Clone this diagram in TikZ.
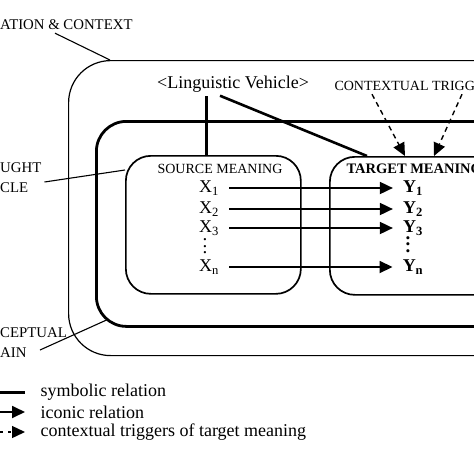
\documentclass[tikz,border=0pt]{standalone}
\usepackage{fontspec}
\setmainfont{Liberation Serif}
\usetikzlibrary{arrows.meta}
\newcommand\coldots{\vbox{\baselineskip6.5pt\lineskiplimit0pt\hbox{.}\hbox{.}\hbox{.}}}
\begin{document}
\begin{tikzpicture}[x=1pt,y=-1pt,
  every node/.style={font=\fontsize{18}{20}\selectfont},
  term/.style={inner sep=1pt},
  caps/.style={font=\fontsize{14}{20}\selectfont},
  side/.style={font=\fontsize{14.8}{20}\selectfont,anchor=west,align=left,inner sep=0pt},
  dots/.style={font=\fontsize{19}{20}\selectfont,inner sep=0pt},
  box/.style={draw,rounded corners=#1,inner sep=0pt,anchor=north west},
  sym/.style={line width=2.6pt},
  icon/.style={line width=1.8pt,shorten <=9pt,shorten >=9pt,-{Triangle[length=13pt,width=12pt]}},
  trig/.style={line width=1.4pt,dash pattern=on 5pt off 4pt,-{Triangle[length=13pt,width=12pt]}},
  lead/.style={line width=1.1pt}
]
\useasboundingbox (0,0) rectangle (474,474);
\clip (0,0) rectangle (474,474);
\node[box=42pt,line width=1.2pt,minimum width=520pt,minimum height=295pt] (sit) at (68,60) {};
\node[box=30pt,line width=2.8pt,minimum width=480pt,minimum height=205pt] (dom) at (95,120) {};
\node[box=25pt,line width=1.7pt,minimum width=175pt,minimum height=138pt] (src) at (125,155) {};
\node[box=25pt,line width=1.7pt,minimum width=200pt,minimum height=138pt] (tgt) at (329,156) {};
\node[caps] at (220,169) {SOURCE MEANING};
\node[anchor=west,font=\fontsize{14.5}{20}\selectfont\bfseries] at (343,169) {TARGET MEANING};
\node (lv) at (233,84) {<Linguistic Vehicle>};
\node[caps,anchor=west] (ctx) at (331,86) {CONTEXTUAL TRIGG};
\node[side] (sitl) at (0,25) {ATION \& CONTEXT};
\node[side] (tvl) at (0,178) {UGHT\\CLE};
\node[side] (cdl) at (0,343) {CEPTUAL\\AIN};
\node[term] (x1) at (209,188) {X\textsubscript{1}};
\node[term] (x2) at (209,209) {X\textsubscript{2}};
\node[term] (x3) at (209,228) {X\textsubscript{3}};
\node[dots] (xd) at (205,246.5) {\coldots};
\node[term] (xn) at (209,267) {X\textsubscript{n}};
\node[term] (y1) at (413,188) {\textbf{Y\textsubscript{1}}};
\node[term] (y2) at (413,209) {\textbf{Y\textsubscript{2}}};
\node[term] (y3) at (413,228) {\textbf{Y\textsubscript{3}}};
\node[dots,font=\fontsize{19}{20}\selectfont\bfseries] (yd) at (408,244.5) {\coldots};
\node[term] (yn) at (413,267) {\textbf{Y\textsubscript{n}}};
\draw[icon] (x1) -- (y1);
\draw[icon] (x2) -- (y2);
\draw[icon] (x3) -- (y3);
\draw[icon] (xn) -- (yn);
\draw[sym] ([xshift=-7pt]src.north) -- ([xshift=-7pt]src.north |- lv.south);
\draw[sym] ([xshift=-13pt]lv.south) -- ([xshift=38pt]tgt.north west);
\draw[trig] ([xshift=41pt]ctx.south west) -- ([xshift=76pt]tgt.north west);
\draw[trig] ([xshift=131pt]ctx.south west) -- ([xshift=105pt]tgt.north west);
\draw[lead] ([xshift=55pt,yshift=-3pt]sitl.south west) -- ([xshift=42pt]sit.north west);
\draw[lead] ([xshift=3pt,yshift=-4pt]tvl.east) -- ([yshift=-15pt]src.north west);
\draw[lead] ([xshift=40pt,yshift=-7pt]cdl.west) -- ([xshift=12pt,yshift=8pt]dom.south west);
\coordinate (k1) at (0,392);
\coordinate (k2) at (0,412);
\coordinate (k3) at (0,432);
\node[anchor=west] (l1) at (37,392) {symbolic relation};
\node[anchor=west] (l2) at (37,412) {iconic relation};
\node[anchor=west] (l3) at (37,432) {contextual triggers of target meaning};
\draw[sym,line width=3pt] (k1) -- ([xshift=-12pt]l1.west);
\draw[icon,shorten <=0pt,shorten >=0pt] (k2) -- ([xshift=-12pt]l2.west);
\draw[trig,dash pattern=on 3pt off 5pt] (k3) -- ([xshift=-12pt]l3.west);
\end{tikzpicture}
\end{document}
